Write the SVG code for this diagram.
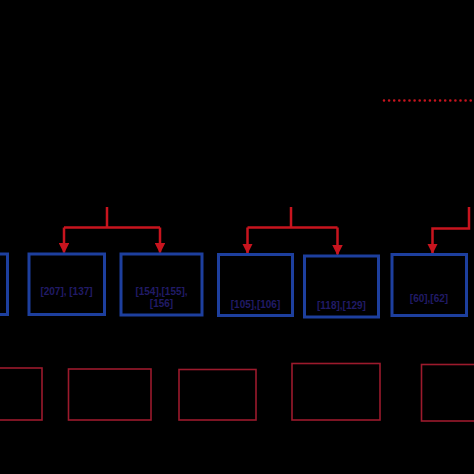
<svg xmlns="http://www.w3.org/2000/svg" width="474" height="474" viewBox="0 0 474 474">
<defs>
<style>
.bg{fill:#000}
.blue{fill:none;stroke:#1d3f9e;stroke-width:3}
.redbox{fill:none;stroke:#9c1a2c;stroke-width:1.6}
.conn{fill:none;stroke:#c8141e;stroke-width:2.5}
.dots{fill:none;stroke:#c8141e;stroke-width:2.6;stroke-linecap:round;stroke-dasharray:0 5.1}
.lbl{font-family:"Liberation Sans",Arial,sans-serif;font-size:10px;font-weight:bold;fill:#211b66;text-anchor:middle}
</style>
<marker id="ah" viewBox="0 0 10 10" refX="9" refY="5" markerWidth="4.2" markerHeight="4.2" orient="auto" markerUnits="strokeWidth">
<path d="M0,0 L10,5 L0,10 z" fill="#c8141e"/>
</marker>
</defs>
<rect class="bg" x="0" y="0" width="474" height="474"/>
<g id="connectors">
<line class="dots" x1="384" y1="100.5" x2="474" y2="100.5"/>
<path class="conn" d="M107,207 V227.5"/>
<path class="conn" d="M64,227.5 H160"/>
<path class="conn" d="M64,227.5 V252.5" marker-end="url(#ah)"/>
<path class="conn" d="M160,227.5 V252.5" marker-end="url(#ah)"/>
<path class="conn" d="M291,207 V227.5"/>
<path class="conn" d="M247.5,227.5 H337.5"/>
<path class="conn" d="M247.5,227.5 V253" marker-end="url(#ah)"/>
<path class="conn" d="M337.5,227.5 V254.5" marker-end="url(#ah)"/>
<path class="conn" d="M469,207 V228.5 H432.5 V253" marker-end="url(#ah)"/>
</g>
<g id="b0"><rect class="blue" x="-5" y="254" width="12.5" height="60.5"/></g>
<g id="b1"><rect class="blue" x="29" y="254" width="75.5" height="60.5"/><text class="lbl" x="66.5" y="294.5">[207], [137]</text></g>
<g id="b2"><rect class="blue" x="121" y="254" width="81" height="61"/><text class="lbl" x="161.5" y="294.5">[154],[155],</text><text class="lbl" x="161.5" y="307">[156]</text></g>
<g id="b3"><rect class="blue" x="218.5" y="254.5" width="74" height="61"/><text class="lbl" x="255.5" y="308">[105],[106]</text></g>
<g id="b4"><rect class="blue" x="304.5" y="256" width="74" height="61"/><text class="lbl" x="341.5" y="309">[118],[129]</text></g>
<g id="b5"><rect class="blue" x="392" y="254.5" width="74.5" height="61"/><text class="lbl" x="429" y="302">[60],[62]</text></g>
<g id="r0"><rect class="redbox" x="-5" y="368" width="47" height="52"/></g>
<g id="r1"><rect class="redbox" x="68.5" y="369" width="82.5" height="51"/></g>
<g id="r2"><rect class="redbox" x="179" y="369.5" width="77" height="50.5"/></g>
<g id="r3"><rect class="redbox" x="292" y="363.5" width="88" height="56.5"/></g>
<g id="r4"><rect class="redbox" x="421.5" y="364.5" width="60" height="56.5"/></g>
</svg>
